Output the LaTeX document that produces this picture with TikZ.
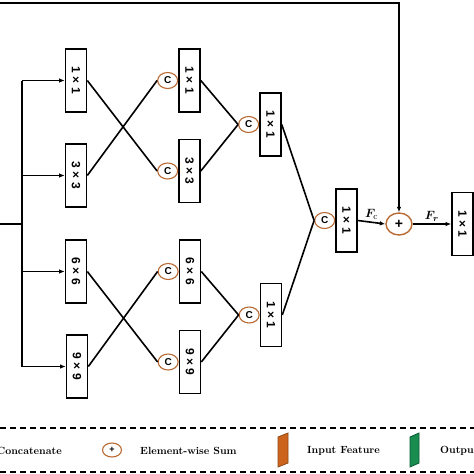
\documentclass[tikz,border=0pt]{standalone}
\usepackage{fontspec}
\newfontfamily\arial{Liberation Sans}
\usepackage{graphicx}
\usepackage{bm}
\usetikzlibrary{shapes.geometric,arrows.meta}
\definecolor{corange}{RGB}{185,105,50}
\definecolor{slaborange}{RGB}{205,100,30}
\definecolor{slaboredge}{RGB}{140,70,20}
\definecolor{slabgreen}{RGB}{25,140,80}
\definecolor{slabgedge}{RGB}{10,90,50}
\begin{document}
\begin{tikzpicture}[x=1pt,y=-1pt,
  box/.style={draw, line width=1.6pt, minimum width=21pt, minimum height=63pt, inner sep=0pt,
    font=\arial\bfseries\fontsize{12}{12}\selectfont},
  cat/.style={ellipse, draw=corange, line width=1.1pt, minimum width=20pt, minimum height=16pt, inner sep=0pt,
    font=\arial\bfseries\fontsize{10}{10}\selectfont},
  sumn/.style={ellipse, draw=corange, line width=1.4pt, minimum width=26pt, minimum height=22pt, inner sep=0pt,
    font=\arial\bfseries\fontsize{14}{14}\selectfont},
  wire/.style={line width=1.6pt},
  arr/.style={wire, -{Latex[length=5.5pt,width=4.5pt]}},
  dashl/.style={line width=1.6pt, dash pattern=on 6pt off 4pt},
  legt/.style={inner sep=0pt, font=\bfseries\fontsize{10.4}{12}\selectfont},
  flab/.style={inner sep=1pt, font=\fontsize{13}{15}\selectfont}
]
\clip (0,0) rectangle (474,474);
\fill[white] (0,0) rectangle (474,474);

% column 1
\node[box] (a1) at (76,80.5) {\rotatebox{-90}{1 × 1}};
\node[box] (a3) at (76,175.5) {\rotatebox{-90}{3 × 3}};
\node[box] (a6) at (76,271.5) {\rotatebox{-90}{6 × 6}};
\node[box] (a9) at (77,366.5) {\rotatebox{-90}{9 × 9}};
% column 2
\node[box] (b1) at (189.5,80.5) {\rotatebox{-90}{1 × 1}};
\node[box] (b3) at (189.5,171) {\rotatebox{-90}{3 × 3}};
\node[box] (b6) at (190,271.5) {\rotatebox{-90}{6 × 6}};
\node[box] (b9) at (190,362) {\rotatebox{-90}{9 × 9}};
\node[cat, anchor=east] (cb1) at (b1.west) {C};
\node[cat, anchor=east] (cb3) at (b3.west) {C};
\node[cat, anchor=east] (cb6) at (b6.west) {C};
\node[cat, anchor=east] (cb9) at (b9.west) {C};
% column 3
\node[box] (c1) at (270.5,124.5) {\rotatebox{-90}{1 × 1}};
\node[box] (c2) at (271,315) {\rotatebox{-90}{1 × 1}};
\node[cat, anchor=east] (cc1) at (c1.west) {C};
\node[cat, anchor=east] (cc2) at (c2.west) {C};
% column 4
\node[box] (d) at (346.5,220.5) {\rotatebox{-90}{1 × 1}};
\node[cat, anchor=east] (cd) at (d.west) {C};
% sum and output
\node[sumn] (plus) at (399,224) {+};
\node[box] (out) at (462.5,224) {\rotatebox{-90}{1 × 1}};

% input split
\coordinate (in) at (0,224);
\coordinate (br) at (22,224);
\draw[wire] (in) -- (br);
\draw[wire] (a1.west -| br) -- (a9.west -| br);
\draw[arr] (a1.west -| br) -- (a1.west);
\draw[arr] (a3.west -| br) -- (a3.west);
\draw[arr] (a6.west -| br) -- (a6.west);
\draw[arr] (a9.west -| br) -- (a9.west);

% crossings
\draw[wire] (a1.east) -- (cb3.west);
\draw[wire] (a3.east) -- (cb1.west);
\draw[wire] (a6.east) -- (cb9.west);
\draw[wire] (a9.east) -- (cb6.west);

% merges
\draw[wire] (b1.east) -- (cc1.west);
\draw[wire] (b3.east) -- (cc1.west);
\draw[wire] (b6.east) -- (cc2.west);
\draw[wire] (b9.east) -- (cc2.west);
\draw[wire] (c1.east) -- (cd.west);
\draw[wire] (c2.east) -- (cd.west);

% output path
\draw[arr] (d.east) -- node[flab, midway, above=1pt] {$\bm{F}_{\mathrm{c}}$} (plus.west);
\draw[arr] (plus.east) -- node[flab, midway, above=1pt] {$\bm{F}_{\bm{r}}$} (out.west);

% skip connection
\coordinate (sk) at (0,3);
\draw[arr] (sk) -| (plus.north);

% legend
\coordinate (l1a) at (0,428);
\coordinate (l1b) at (474,428);
\coordinate (l2a) at (0,472);
\coordinate (l2b) at (474,472);
\draw[dashl] (l1a) -- (l1b);
\draw[dashl] (l2a) -- (l2b);
\node[legt, anchor=east] (lcat) at (62,451) {Concatenate};
\node[ellipse, draw=corange, line width=1.1pt, minimum width=19pt, minimum height=14pt, inner sep=0pt,
  font=\arial\bfseries\fontsize{9}{9}\selectfont] (lsum) at (112,450) {+};
\node[legt, anchor=west] (lsumt) at (140,451) {Element-wise Sum};
\filldraw[fill=slaborange, draw=slaboredge, line width=0.8pt] (278,437) -- (288,433) -- (288,463) -- (278,467) -- cycle;
\node[legt, anchor=west] (lin) at (307,451) {Input Feature};
\filldraw[fill=slabgreen, draw=slabgedge, line width=0.8pt] (410,437) -- (419,433) -- (419,463) -- (410,467) -- cycle;
\node[legt, anchor=west] (lout) at (440,451) {Output Feature};
\end{tikzpicture}
\end{document}
